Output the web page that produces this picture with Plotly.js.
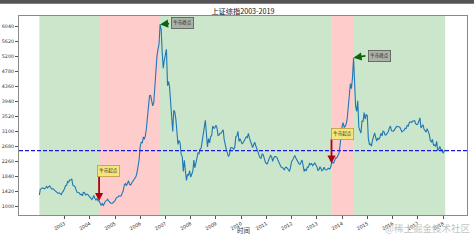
<!DOCTYPE html>
<html>
<head>
<meta charset="utf-8">
<script src="https://cdn.plot.ly/plotly-3.0.1.min.js"></script>
<style>html,body{margin:0;padding:0;background:#fff;}#chart{width:474px;height:240px;}</style>
</head>
<body>
<div id="chart"></div>
<script>
// Shanghai Composite, first point then mid-month / month-end closes
const startDate = '2003-01-02';
const startValue = 1320;
const sse2003 = [1480,1500,1520,1512,1490,1510,1560,1521,1560,1576,1530,1487,1500,1476,1460,1421,1400,1367,1380,1348,1330,1397,1430,1497];
const sse2004 = [1580,1590,1700,1675,1740,1742,1770,1595,1560,1555,1470,1399,1390,1386,1330,1342,1300,1396,1390,1320,1340,1340,1300,1266];
const sse2005 = [1220,1191,1240,1306,1230,1181,1220,1159,1150,1060,1030,1080,1030,1083,1150,1162,1200,1155,1120,1092,1090,1099,1130,1161];
const sse2006 = [1230,1258,1290,1299,1290,1298,1380,1440,1600,1642,1580,1672,1720,1612,1600,1658,1700,1752,1800,1837,1950,2099,2300,2675];
const sse2007 = [2800,2786,2950,2881,2970,3183,3500,3841,4100,4109,4000,3820,3900,4471,4900,5218,5400,5552,6100,5954,5300,4871,5100,5262];
const sse2008 = [5400,4383,4500,4348,4000,3472,3100,3693,3650,3433,3000,2736,2850,2776,2450,2397,1980,2293,2000,1729,1900,1871,2000,1821];
const sse2009 = [1900,1991,2300,2082,2200,2373,2500,2477,2600,2633,2800,2959,3200,3412,3050,2667,2900,2779,2950,2996,3250,3195,3200,3277];
const sse2010 = [3200,2989,3000,3051,3050,3109,3150,2870,2700,2592,2500,2398,2450,2638,2650,2639,2600,2656,2950,2979,3100,2820,2900,2808];
const sse2011 = [2750,2791,2850,2905,2950,2928,3050,2911,2850,2743,2650,2762,2800,2701,2600,2568,2450,2359,2350,2468,2450,2333,2250,2199];
const sse2012 = [2200,2292,2350,2428,2400,2262,2350,2396,2400,2373,2300,2225,2170,2103,2100,2047,2030,2086,2100,2069,2030,1980,2100,2269];
const sse2013 = [2300,2385,2430,2365,2300,2237,2200,2177,2250,2301,2150,1979,2050,1994,2100,2098,2200,2175,2200,2142,2180,2220,2170,2116];
const sse2014 = [2010,2033,2110,2056,2000,2033,2100,2026,2020,2039,2070,2048,2070,2202,2230,2217,2320,2364,2360,2420,2480,2683,3000,3235];
const sse2015 = [3350,3210,3250,3310,3450,3748,4200,4442,4300,4612,5166,4277,3800,3664,3960,3206,3100,3053,3390,3383,3630,3446,3580,3539];
const sse2016 = [2900,2738,2750,2688,2850,3004,3060,2938,2830,2917,2880,2930,3050,2979,3110,3085,3000,3005,3060,3100,3200,3250,3120,3104];
const sse2017 = [3110,3159,3210,3242,3240,3223,3220,3155,3090,3117,3130,3192,3180,3273,3250,3361,3370,3349,3390,3393,3400,3317,3290,3307];
const sse2018 = [3430,3481,3200,3259,3290,3169,3110,3082,3180,3095,3020,2847,2810,2876,2720,2725,2680,2821,2560,2603,2680,2588,2590,2494];
const sse2019 = [2560,2585];

const bullStarts = ['2005-05-15', '2014-07-31'];
const bullEnds = ['2007-10-15', '2015-06-15'];
const refLevel = 2565;

const yTicks = [1000,1420,1840,2260,2680,3100,3520,3940,4360,4780,5200,5620,6040];
const xTickLabels = ['2003','2004','2005','2006','2007','2008','2009','2010','2011','2012','2013','2014','2015','2016','2017','2018'];

const titleText = '上证综指2003-2019';
const xTitleText = '时间';
const startLabel = '牛市起点';
const endLabel = '牛市终点';
const watermark = '@稀土掘金技术社区';

// build series
const yearly = [[2003,sse2003],[2004,sse2004],[2005,sse2005],[2006,sse2006],[2007,sse2007],[2008,sse2008],
  [2009,sse2009],[2010,sse2010],[2011,sse2011],[2012,sse2012],[2013,sse2013],[2014,sse2014],[2015,sse2015],
  [2016,sse2016],[2017,sse2017],[2018,sse2018],[2019,sse2019]];
const pad = n => (n < 10 ? '0' : '') + n;
const dates = [startDate], values = [startValue];
yearly.forEach(([yr, arr]) => {
  for (let i = 0; i < arr.length; i++) {
    const m = Math.floor(i / 2);
    const day = (i % 2 === 0) ? 15 : new Date(Date.UTC(yr, m + 1, 0)).getUTCDate();
    dates.push(yr + '-' + pad(m + 1) + '-' + pad(day));
    values.push(arr[i]);
  }
});
const valueAt = d => values[dates.indexOf(d)];
const firstDate = dates[0], lastDate = dates[dates.length - 1];

const xTickVals = xTickLabels.map(l => (parseInt(l) + 1) + '-01-01');

// regions
const shapes = [];
const green = 'rgba(0,128,0,0.2)', red = 'rgba(255,0,0,0.2)';
const bounds = [firstDate, bullStarts[0], bullEnds[0], bullStarts[1], bullEnds[1], lastDate];
for (let i = 0; i < bounds.length - 1; i++) {
  shapes.push({type:'rect', xref:'x', yref:'paper', x0:bounds[i], x1:bounds[i+1], y0:0, y1:1,
    fillcolor: i % 2 === 0 ? green : red, line:{width:0}, layer:'below'});
}
shapes.push({type:'line', xref:'paper', yref:'y', x0:0, x1:1, y0:refLevel, y1:refLevel,
  line:{color:'#1a1adf', width:1.2, dash:'4px,2px'}});
// frame decorations
shapes.push({type:'rect', xref:'paper', yref:'paper', x0:-0.05, x1:1.02, y0:1.0615, y1:1.08,
  fillcolor:'#555555', line:{width:0}});

const annFont = {family:'Noto Sans CJK SC', size:4.5, color:'#222'};
const annotations = [];
bullStarts.forEach((d, i) => {
  const v = valueAt(d);
  annotations.push({x:d, y:v, xref:'x', yref:'y', text:'', showarrow:true, ax:0, ay:-26,
    arrowcolor:'#b00010', arrowwidth:1.8, arrowhead:2, arrowsize:0.9, standoff:0});
  annotations.push({x:d, y:v, xref:'x', yref:'y', text:startLabel, showarrow:false,
    xshift: i === 0 ? 9 : 10.5, yshift: 30, font:annFont,
    bgcolor:'#f6e67a', bordercolor:'#c09a40', borderwidth:0.8, borderpad:1.5});
});
bullEnds.forEach((d, i) => {
  const v = valueAt(d);
  annotations.push({x:d, y:v, xref:'x', yref:'y', text:'', showarrow:true,
    ax: i === 0 ? 10.5 : 13.4, ay: i === 0 ? -1 : -2,
    arrowcolor:'#0b640b', arrowwidth:1.8, arrowhead:2, arrowsize:0.9, standoff:0});
  annotations.push({x:d, y:v, xref:'x', yref:'y', text:endLabel, showarrow:false,
    xshift: i === 0 ? 22.6 : 25.9, yshift: i === 0 ? 1.1 : 2.2, font:annFont,
    bgcolor:'#aab1a8', bordercolor:'#555', borderwidth:0.8, borderpad:1.5});
});
annotations.push({xref:'paper', yref:'paper', x:0.5, y:-0.075, xanchor:'center', text:xTitleText, showarrow:false,
  yanchor:'middle', font:{family:'Noto Sans CJK SC', size:6.5, color:'#333'}});
annotations.push({xref:'paper', yref:'paper', x:0.912, y:-0.065, xanchor:'center', text:watermark, showarrow:false,
  yanchor:'middle', font:{family:'Noto Sans CJK SC', size:9.5, color:'#c4c4c4'}});

const trace = {x:dates, y:values, type:'scatter', mode:'lines',
  line:{color:'#1f77b4', width:1.1}, hoverinfo:'skip'};

const layout = {
  width:474, height:240,
  margin:{l:19, r:7, t:16, b:25, pad:0},
  paper_bgcolor:'#ffffff', plot_bgcolor:'#ffffff',
  showlegend:false,
  font:{family:'DejaVu Sans, Noto Sans CJK SC', size:5, color:'#333'},
  title:{text:titleText, x:0.5, xref:'paper', y:1 - 11/240, yref:'container', yanchor:'middle',
    font:{family:'Noto Sans CJK SC', size:7.2, color:'#111'}},
  xaxis:{type:'date', range:['2002-03-13','2019-12-13'], tickvals:xTickVals, ticktext:xTickLabels,
    tickangle:-30, tickfont:{size:4.8, color:'#333'}, ticks:'outside', ticklen:3, tickcolor:'#555',
    showgrid:false, zeroline:false, showline:true, mirror:true, linecolor:'#8a8a8a', linewidth:1},
  yaxis:{range:[760, 6335], tickvals:yTicks, ticktext:yTicks.map(String),
    tickfont:{size:4.8, color:'#333'}, ticks:'outside', ticklen:3, tickcolor:'#555',
    showgrid:false, zeroline:false, showline:true, mirror:true, linecolor:'#8a8a8a', linewidth:1},
  shapes:shapes, annotations:annotations
};
Plotly.newPlot('chart', [trace], layout, {staticPlot:true, displayModeBar:false});
</script>
</body>
</html>
